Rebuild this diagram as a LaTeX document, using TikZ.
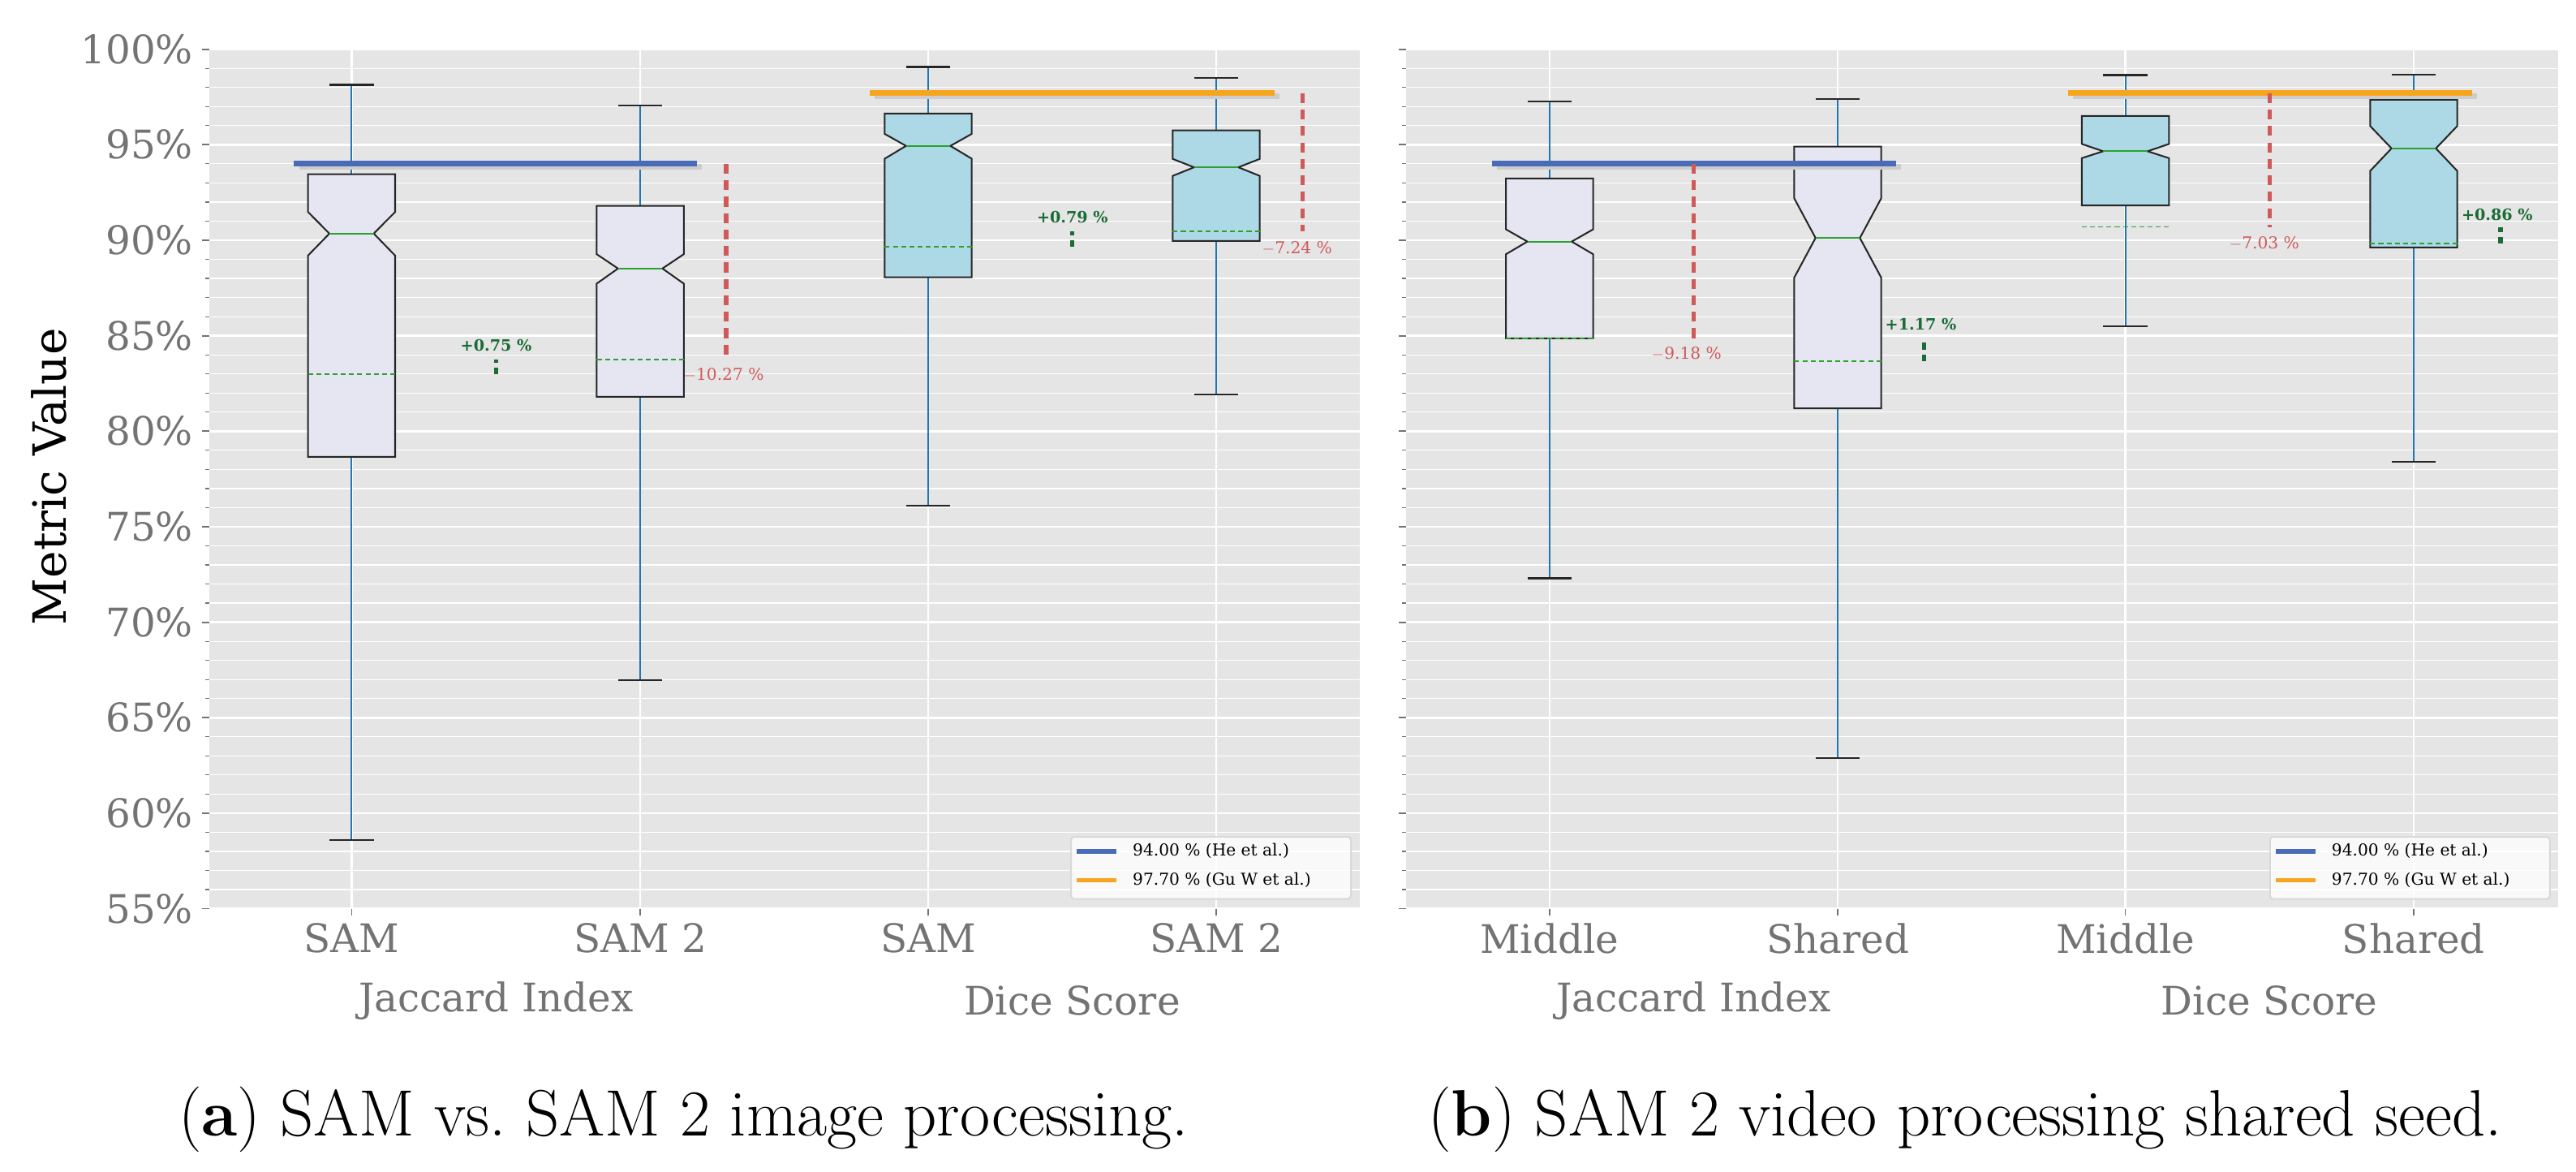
\documentclass[tikz,border=0pt]{standalone}
\usepackage{fontspec}
\newfontfamily\dvs{DejaVu Serif}
\begin{document}
\definecolor{bgc}{HTML}{E5E5E5}
\definecolor{tickc}{HTML}{737373}
\definecolor{lav}{HTML}{E6E6F2}
\definecolor{lblue}{HTML}{ADD8E6}
\definecolor{wblue}{HTML}{1F77B4}
\definecolor{medg}{HTML}{2CA02C}
\definecolor{refblue}{HTML}{4A6BB8}
\definecolor{reforange}{HTML}{F8A51E}
\definecolor{redd}{HTML}{D05A5A}
\definecolor{greent}{HTML}{1A6B35}
\begin{tikzpicture}[x=1bp,y=1bp,
  tick/.style={font=\dvs\fontsize{24}{26}\selectfont,text=tickc},
  boxs/.style={draw=black!85,line width=1bp},
  refl/.style={line width=3.5bp},
  shadowl/.style={line width=3.5bp,black!20},
  redl/.style={redd,line width=2.6bp,dash pattern=on 6bp off 4bp},
  grnl/.style={greent,line width=2.6bp,dash pattern=on 4bp off 3bp},
  redt/.style={text=redd,font=\dvs\fontsize{10}{11}\selectfont},
  grnt/.style={text=greent,font=\dvs\bfseries\fontsize{9.5}{11}\selectfont},
  legt/.style={font=\dvs\fontsize{10}{11}\selectfont,anchor=west},
  captext/.style={font=\fontsize{40}{44}\selectfont}]
\useasboundingbox (0,0) rectangle (1568,713);
\fill[white] (0,0) rectangle (1568,713);
\begin{scope}[y=11.62bp,yshift=-479bp]
% panels
\foreach \xa/\xb/\centers in {127.5/827.5/{214,389.7,565,740.3},856/1557/{943.2,1118.6,1293.7,1469.2}}{
  \fill[bgc] (\xa,55) rectangle (\xb,100);
  \foreach \v in {56,...,99} \draw[white,line width=0.6bp] (\xa,\v) -- (\xb,\v);
  \foreach \v in {55,60,...,100} \draw[white,line width=1.3bp] (\xa,\v) -- (\xb,\v);
  \foreach \c in \centers {
    \draw[white,line width=1.3bp] (\c,55) -- (\c,100);
    \draw[tickc,line width=0.8bp] (\c,55) -- ++(0,-4bp);}
  \foreach \v in {55,...,100} \draw[tickc,line width=0.6bp] (\xa,\v) -- ++(-2.5bp,0);
  \foreach \v in {55,60,...,100} \draw[tickc,line width=0.9bp] (\xa,\v) -- ++(-4.5bp,0);
}
\foreach \v in {55,60,...,100} \node[tick,anchor=east] (yl\v) at (121,\v) {\v\%};
% boxes
\foreach \n/\cx/\wl/\qa/\nl/\md/\nh/\qb/\wh/\mn/\fc in {
  a/214/58.6/78.66/89.2/90.35/91.48/93.46/98.14/83.0/lav,
  b/389.7/66.95/81.8/87.73/88.52/89.27/91.8/97.07/83.76/lav,
  c/565/76.1/88.06/94.27/94.94/95.57/96.64/99.07/89.67/lblue,
  d/740.3/81.94/89.96/93.37/93.82/94.26/95.75/98.51/90.48/lblue,
  e/943.2/72.3/84.86/89.27/89.93/90.57/93.24/97.28/84.86/lav,
  f/1118.6/62.9/81.2/88.04/90.12/92.2/94.9/97.41/83.68/lav,
  g/1293.7/85.5/91.82/94.3/94.66/95.04/96.51/98.65/90.7/lblue,
  h/1469.2/78.4/89.62/93.63/94.81/95.98/97.36/98.68/89.84/lblue}{
  \draw[wblue,line width=1bp] (\cx,\wl) -- (\cx,\qa) (\cx,\qb) -- (\cx,\wh);
  \draw[black!85,line width=1.1bp] (\cx-13.5,\wl) -- (\cx+13.5,\wl) (\cx-13.5,\wh) -- (\cx+13.5,\wh);
  \filldraw[boxs,fill=\fc] (\cx-26.5,\qa) -- (\cx-26.5,\nl) -- (\cx-13.5,\md) -- (\cx-26.5,\nh) -- (\cx-26.5,\qb)
     -- (\cx+26.5,\qb) -- (\cx+26.5,\nh) -- (\cx+13.5,\md) -- (\cx+26.5,\nl) -- (\cx+26.5,\qa) -- cycle;
  \draw[medg,line width=1bp] (\cx-13.5,\md) -- (\cx+13.5,\md);
  \draw[medg,line width=0.9bp,dash pattern=on 3bp off 2bp] (\cx-26.5,\mn) -- (\cx+26.5,\mn);
}
% reference lines
\foreach \xa/\xb/\v/\col in {179/424/94/refblue,529.5/775.6/97.7/reforange,908.1/1154.1/94/refblue,1258.9/1504.8/97.7/reforange}{
  \draw[shadowl,yshift=-2bp] (\xa+3,\v) -- (\xb+3,\v);
  \draw[refl,\col] (\xa,\v) -- (\xb,\v);
}
% differences
\coordinate (r1a) at (442,94); \coordinate (r1b) at (442,83.76);
\coordinate (r2a) at (793,97.7); \coordinate (r2b) at (793,90.48);
\coordinate (r3a) at (1030.9,94); \coordinate (r3b) at (1030.9,84.86);
\coordinate (r4a) at (1381.4,97.7); \coordinate (r4b) at (1381.4,90.7);
\draw[redl] (r1a) -- (r1b); \draw[redl] (r2a) -- (r2b); \draw[redl] (r3a) -- (r3b); \draw[redl] (r4a) -- (r4b);
\node[redt] (t1) at (440.5,82.95) {$-$10.27 \%};
\node[redt] (t2) at (789.5,89.6) {$-$7.24 \%};
\node[redt] (t3) at (1026.6,84.05) {$-$9.18 \%};
\node[redt] (t4) at (1378.2,89.85) {$-$7.03 \%};
\coordinate (g1a) at (302,83.0); \coordinate (g1b) at (302,83.76);
\coordinate (g2a) at (652.8,89.67); \coordinate (g2b) at (652.8,90.48);
\coordinate (g3a) at (1171.2,83.68); \coordinate (g3b) at (1171.2,84.86);
\coordinate (g4a) at (1522,89.84); \coordinate (g4b) at (1522,90.7);
\draw[grnl] (g1a) -- (g1b); \draw[grnl] (g2a) -- (g2b); \draw[grnl] (g3a) -- (g3b); \draw[grnl] (g4a) -- (g4b);
\node[grnt] (u1) at (302,84.5) {+0.75 \%};
\node[grnt] (u2) at (652.8,91.2) {+0.79 \%};
\node[grnt] (u3) at (1169.2,85.6) {+1.17 \%};
\node[grnt] (u4) at (1520,91.35) {+0.86 \%};
\end{scope}
% legends
\foreach \dx/\p in {0/a,729.8/b}{
  \begin{scope}[xshift=\dx bp]
  \node[draw=black!15,fill=white,fill opacity=0.8,rounded corners=2bp,line width=1bp,minimum width=170.4bp,minimum height=37.8bp,anchor=north west] (leg\p) at (651.4,204.3) {};
  \draw[refblue,line width=2.6bp] (655.5,195) -- (679.4,195);
  \draw[reforange,line width=2.6bp] (655.5,177.5) -- (679.4,177.5);
  \node[legt] (la\p) at (686,195) {94.00 \% (He et al.)};
  \node[legt] (lb\p) at (686,177.5) {97.70 \% (Gu W et al.)};
  \end{scope}
}
% x labels
\foreach \x/\t [count=\i] in {214/SAM,389.7/SAM 2,565/SAM,740.3/SAM 2,943.2/Middle,1118.6/Shared,1293.7/Middle,1469.2/Shared}
  \node[tick] (xl\i) at (\x,142) {\t};
\node[tick] (ga) at (302,104) {Jaccard Index};
\node[tick] (gb) at (652.6,104) {Dice Score};
\node[tick] (gc) at (1030.9,104) {Jaccard Index};
\node[tick] (gd) at (1381.4,104) {Dice Score};
\node[font=\dvs\fontsize{28}{30}\selectfont,rotate=90] (ylab) at (30,423) {Metric Value};
\node[captext] (ca) at (416,32) {(\textbf{a}) SAM vs.\ SAM 2 image processing.};
\node[captext] (cb) at (1196,32) {(\textbf{b}) SAM 2 video processing shared seed.};
\end{tikzpicture}
\end{document}
